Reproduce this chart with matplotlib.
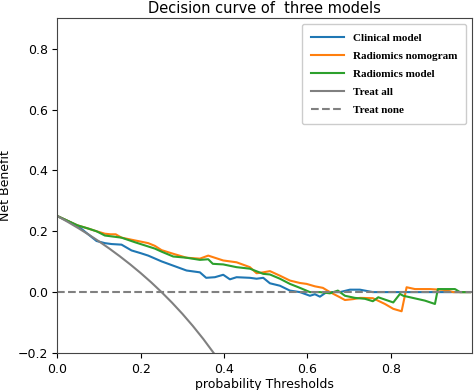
import numpy as np
import matplotlib
matplotlib.use('Agg')
import matplotlib.pyplot as plt

# Values
clin_x = [0, 0.047, 0.074, 0.094, 0.114, 0.13, 0.154, 0.178, 0.2, 0.218, 0.25, 0.278, 0.31, 0.342,
          0.357, 0.378, 0.398, 0.414, 0.43, 0.462, 0.478, 0.494, 0.51, 0.534, 0.558, 0.582, 0.606,
          0.618, 0.63, 0.646, 0.678, 0.702, 0.726, 0.757, 0.99]
clin_y = [0.25, 0.22, 0.19, 0.168, 0.161, 0.158, 0.156, 0.137, 0.128, 0.12, 0.101, 0.087, 0.071, 0.065,
          0.047, 0.049, 0.057, 0.042, 0.049, 0.047, 0.044, 0.047, 0.029, 0.021, 0.005, 0.0, -0.012,
          -0.007, -0.015, 0.0, 0.0, 0.008, 0.008, 0.0, 0.0]

nomo_x = [0, 0.047, 0.074, 0.094, 0.114, 0.128, 0.14, 0.154, 0.186, 0.218, 0.234, 0.25, 0.278, 0.31,
          0.342, 0.362, 0.398, 0.43, 0.462, 0.478, 0.494, 0.51, 0.534, 0.558, 0.582, 0.598, 0.618,
          0.637, 0.654, 0.678, 0.69, 0.71, 0.726, 0.757, 0.786, 0.806, 0.826, 0.838, 0.858, 0.894,
          0.93, 0.95, 0.99]
nomo_y = [0.25, 0.22, 0.209, 0.2, 0.192, 0.19, 0.19, 0.179, 0.17, 0.161, 0.152, 0.138, 0.126, 0.113,
          0.11, 0.12, 0.104, 0.098, 0.082, 0.062, 0.065, 0.069, 0.054, 0.038, 0.03, 0.027, 0.019,
          0.014, 0.0, -0.017, -0.026, -0.023, -0.019, -0.02, -0.039, -0.055, -0.063, 0.016, 0.01, 0.01,
          0.007, 0.0, 0.0]

rad_x = [0, 0.047, 0.074, 0.094, 0.114, 0.154, 0.186, 0.234, 0.25, 0.278, 0.31, 0.342, 0.362, 0.373,
         0.398, 0.43, 0.462, 0.494, 0.51, 0.534, 0.558, 0.582, 0.606, 0.63, 0.654, 0.673, 0.69, 0.714,
         0.738, 0.757, 0.77, 0.806, 0.822, 0.83, 0.882, 0.906, 0.913, 0.954, 0.966, 0.99]
rad_y = [0.25, 0.22, 0.209, 0.2, 0.186, 0.179, 0.164, 0.143, 0.133, 0.117, 0.113, 0.106, 0.108, 0.093,
         0.091, 0.082, 0.077, 0.06, 0.058, 0.044, 0.027, 0.014, 0.0, 0.0, -0.004, 0.005, -0.012, -0.019,
         -0.022, -0.03, -0.017, -0.034, -0.006, -0.012, -0.028, -0.039, 0.01, 0.01, 0.0, 0.0]

all_x = [0, 0.025, 0.05, 0.075, 0.1, 0.125, 0.15, 0.175, 0.2, 0.225, 0.25, 0.275, 0.3, 0.325, 0.35, 0.375]
all_y = [0.25, 0.2308, 0.2105, 0.1892, 0.1667, 0.1429, 0.1176, 0.0909, 0.0625, 0.0323, 0.0,
         -0.0345, -0.0714, -0.1111, -0.1538, -0.2]

fig = plt.figure(figsize=(4.74, 3.90), dpi=100)
ax = fig.add_axes([0.121, 0.095, 0.874, 0.858])

ax.plot(clin_x, clin_y, color='#1f77b4', lw=1.5, label='Clinical model')
ax.plot(nomo_x, nomo_y, color='#ff7f0e', lw=1.5, label='Radiomics nomogram')
ax.plot(rad_x, rad_y, color='#2ca02c', lw=1.5, label='Radiomics model')
ax.plot(all_x, all_y, color='grey', lw=1.5, label='Treat all')
ax.axhline(0, color='grey', lw=1.5, ls='--', label='Treat none')

ax.set_xlim(0, 0.994)
ax.set_ylim(-0.2, 0.9)
ax.set_xticks([0, 0.2, 0.4, 0.6, 0.8])
ax.set_yticks([-0.2, 0, 0.2, 0.4, 0.6, 0.8])
ax.tick_params(labelsize=9)
for s in ax.spines.values():
    s.set_color('#444444')

ax.set_title('Decision curve of  three models', fontsize=10.5, pad=4)
ax.set_xlabel('probability Thresholds', fontsize=9, labelpad=2)
ax.set_ylabel('Net Benefit', fontsize=9)

ax.legend(loc='upper right', prop={'family': 'Liberation Serif', 'weight': 'bold', 'size': 8},
          handlelength=3, labelspacing=0.75, borderpad=0.8, fancybox=True, framealpha=1)

fig.savefig('out.png', dpi=100)
